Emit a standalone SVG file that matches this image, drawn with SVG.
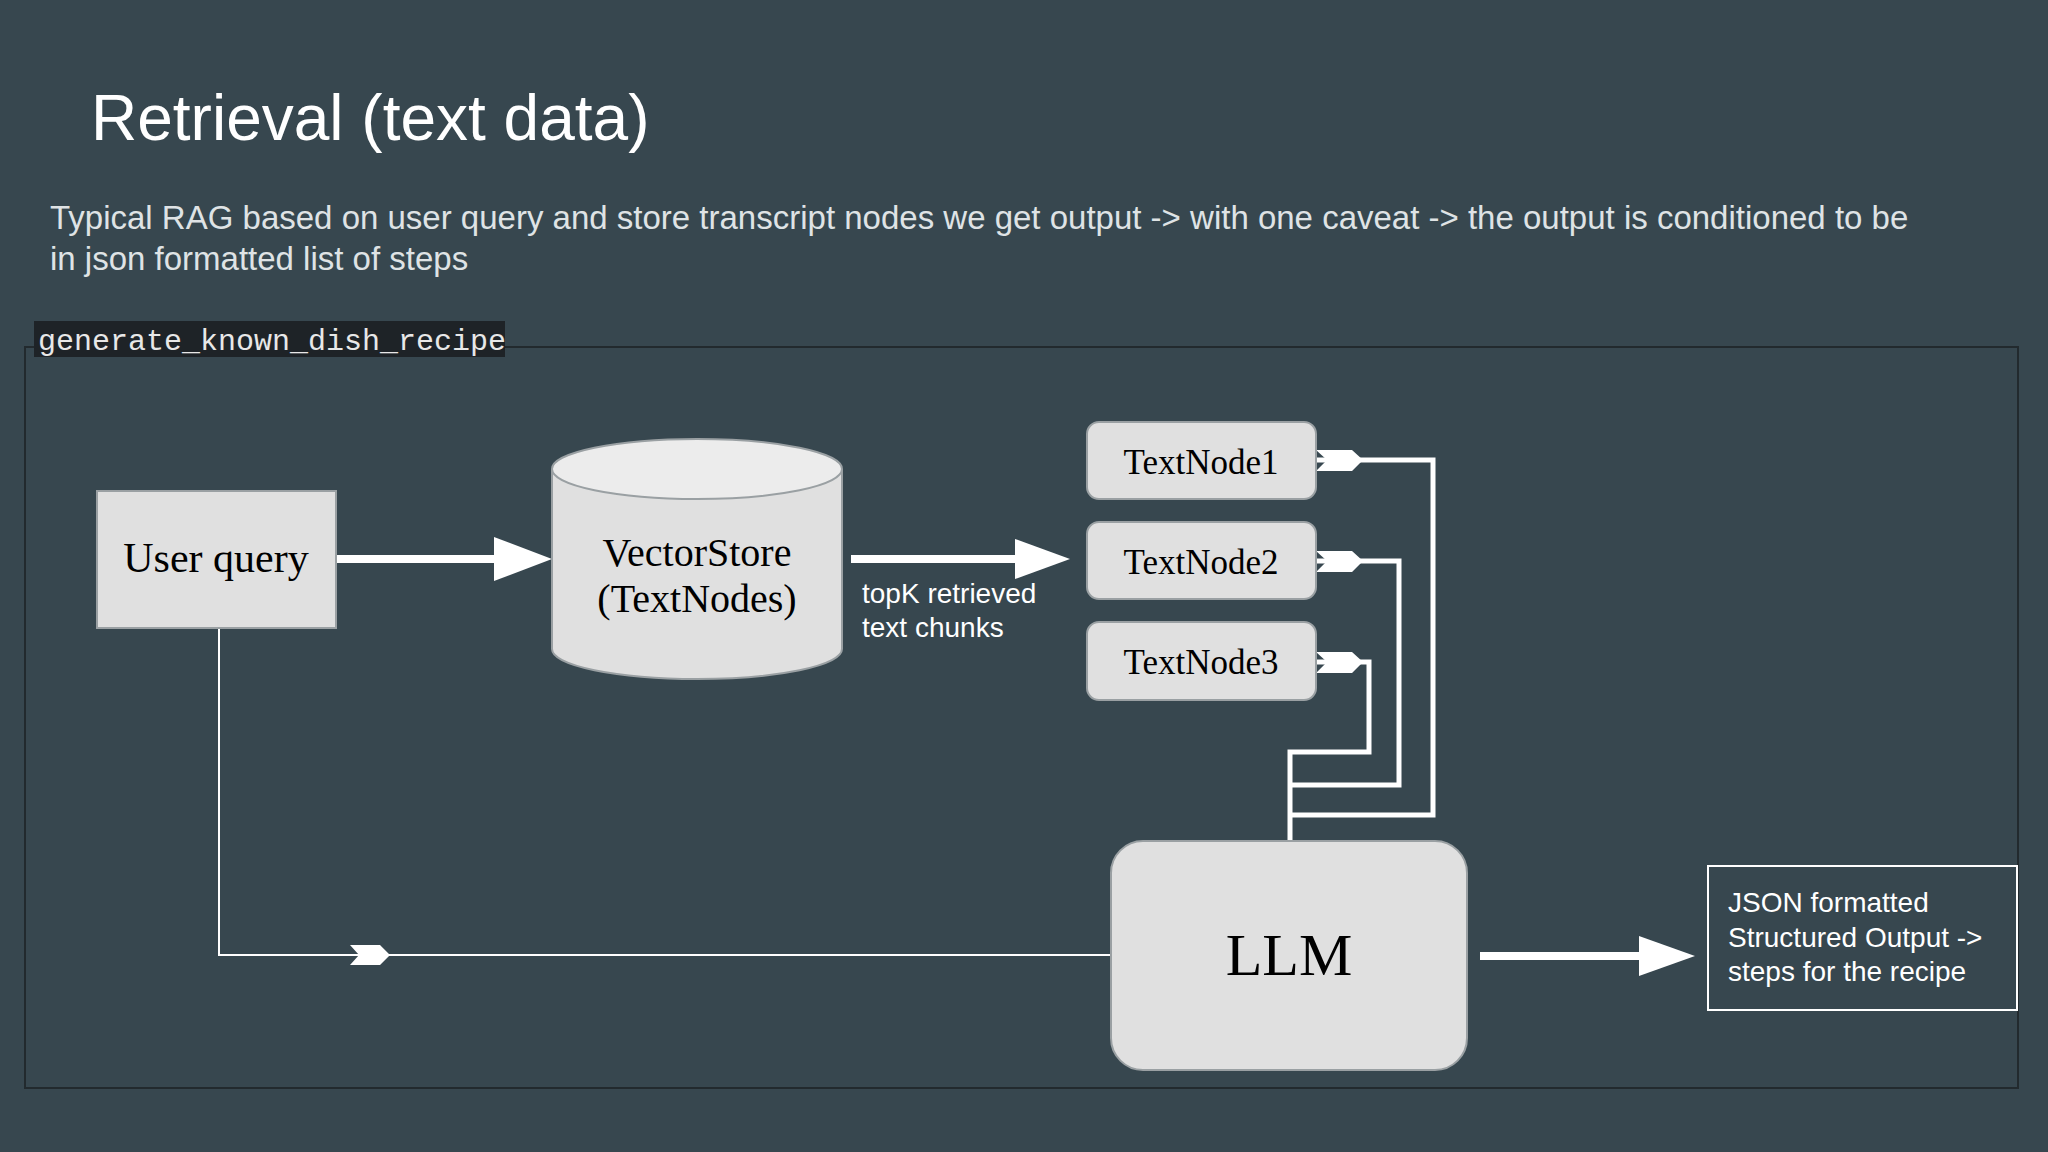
<svg xmlns="http://www.w3.org/2000/svg" width="2048" height="1152" viewBox="0 0 2048 1152">
<defs>
<style>
.sans{font-family:"Liberation Sans",Arial,sans-serif;fill:#fff}
.serif{font-family:"Liberation Serif","Times New Roman",serif;fill:#000}
.box{fill:#e0e0e0;stroke:#9aa0a3;stroke-width:2}
.wire{fill:none;stroke:#fff;stroke-width:5}
.thick{fill:none;stroke:#fff;stroke-width:8}
.tail{fill:#fff}
</style>
</defs>
<rect width="2048" height="1152" fill="#37474f"/>
<text class="sans" x="91" y="140" font-size="64">Retrieval (text data)</text>
<text class="sans" x="50" y="229" font-size="33" fill="#dfe3e5" style="fill:#dfe3e5">Typical RAG based on user query and store transcript nodes we get output -&gt; with one caveat -&gt; the output is conditioned to be</text>
<text class="sans" x="50" y="270" font-size="33" style="fill:#dfe3e5">in json formatted list of steps</text>
<rect x="25" y="347" width="1993" height="741" fill="none" stroke="#222a2e" stroke-width="2"/>
<rect x="34" y="321" width="471" height="36" fill="#1e2327"/>
<text x="38" y="350" font-family="'Liberation Mono','Courier New',monospace" font-size="30" fill="#e8e8e8">generate_known_dish_recipe</text>
<g id="connectors">
<line class="thick" x1="293" y1="559" x2="498" y2="559"/>
<polygon class="tail" points="494,537 552,559 494,581"/>
<line class="thick" x1="851" y1="559" x2="1020" y2="559"/>
<polygon class="tail" points="1015,539 1070,559 1015,579"/>
<polyline class="wire" points="1316,460 1433,460 1433,815 1290,815"/>
<polyline class="wire" points="1316,561 1399,561 1399,785 1290,785"/>
<polyline class="wire" points="1316,662 1369,662 1369,752 1290,752 1290,842"/>
<polygon class="tail" points="1316,450 1352,450 1363,460 1352,471 1316,471 1327,460"/>
<polygon class="tail" points="1316,551 1352,551 1363,561 1352,572 1316,572 1327,561"/>
<polygon class="tail" points="1316,652 1352,652 1363,662 1352,673 1316,673 1327,662"/>
<polyline fill="none" stroke="#fff" stroke-width="2" points="219,628 219,955 1111,955"/>
<polygon class="tail" points="350,945 380,945 390,955 380,965 350,965 359,955"/>
<line class="thick" x1="1480" y1="956" x2="1645" y2="956"/>
<polygon class="tail" points="1639,936 1695,956 1639,976"/>
<text class="sans" x="862" y="603" font-size="28">topK retrieved</text>
<text class="sans" x="862" y="637" font-size="28">text chunks</text>
</g>
<g id="user-query">
<rect class="box" x="97" y="491" width="239" height="137"/>
<text class="serif" x="216" y="572" font-size="42" text-anchor="middle">User query</text>
</g>
<g id="vectorstore">
<path class="box" d="M552,469 V649 A145,30 0 0 0 842,649 V469"/>
<ellipse class="box" cx="697" cy="469" rx="145" ry="30" style="fill:#ececec"/>
<text class="serif" x="697" y="566" font-size="40" text-anchor="middle">VectorStore</text>
<text class="serif" x="697" y="612" font-size="40" text-anchor="middle">(TextNodes)</text>
</g>
<g id="textnode1">
<rect class="box" x="1087" y="422" width="229" height="77" rx="12"/>
<text class="serif" x="1201" y="474" font-size="35" text-anchor="middle">TextNode1</text>
</g>
<g id="textnode2">
<rect class="box" x="1087" y="522" width="229" height="77" rx="12"/>
<text class="serif" x="1201" y="574" font-size="35" text-anchor="middle">TextNode2</text>
</g>
<g id="textnode3">
<rect class="box" x="1087" y="622" width="229" height="78" rx="12"/>
<text class="serif" x="1201" y="674" font-size="35" text-anchor="middle">TextNode3</text>
</g>
<g id="llm">
<rect class="box" x="1111" y="841" width="356" height="229" rx="32"/>
<text class="serif" x="1289" y="975" font-size="60" text-anchor="middle">LLM</text>
</g>
<g id="output">
<rect x="1708" y="866" width="309" height="144" fill="none" stroke="#fff" stroke-width="2"/>
<text class="sans" x="1728" y="912" font-size="28">JSON formatted</text>
<text class="sans" x="1728" y="947" font-size="28">Structured Output -&gt;</text>
<text class="sans" x="1728" y="981" font-size="28">steps for the recipe</text>
</g>
</svg>
